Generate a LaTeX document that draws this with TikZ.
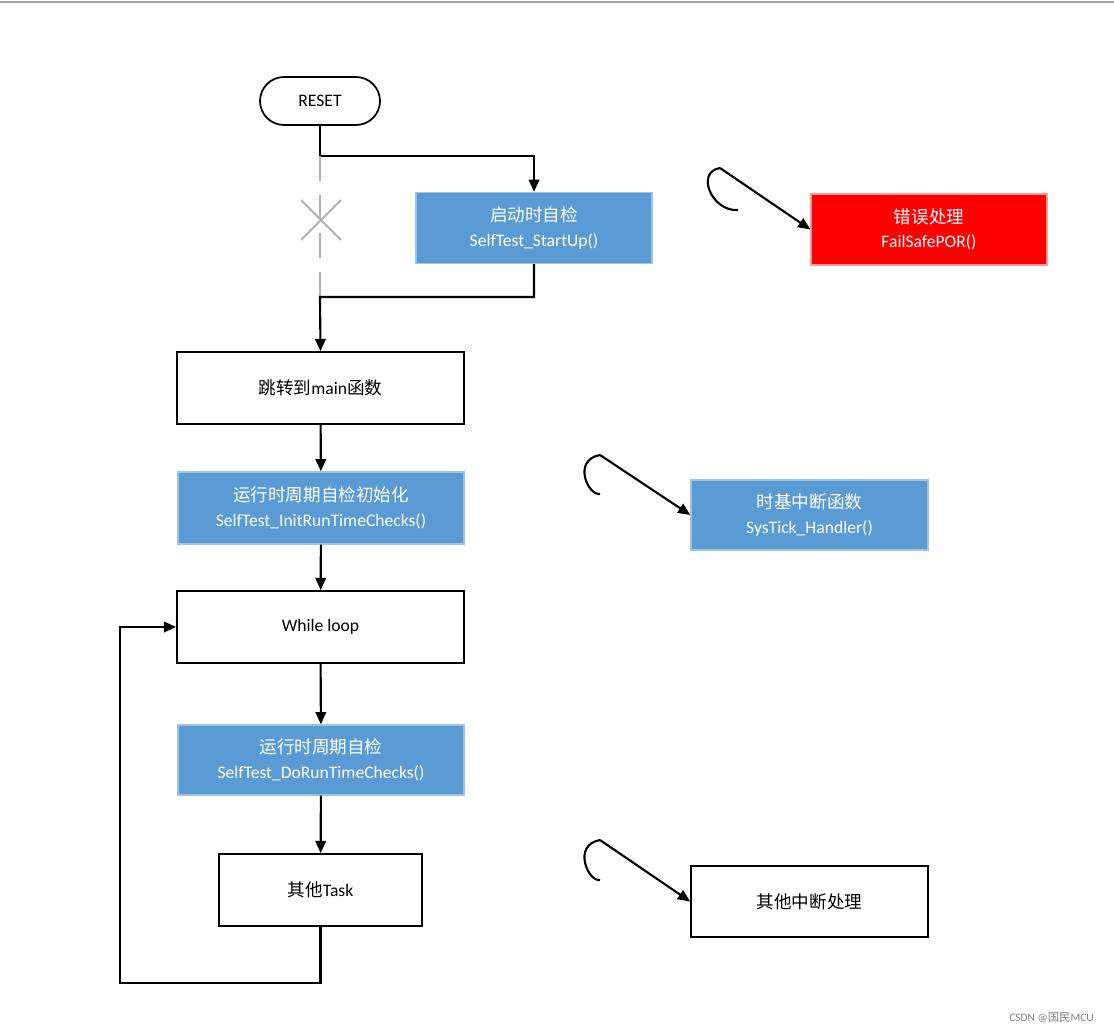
\documentclass[tikz,border=0pt]{standalone}
\usepackage{fontspec}
\setmainfont{Carlito}
\newfontfamily\cjk{Noto Sans CJK SC}
\usetikzlibrary{arrows.meta}
\begin{document}
\begin{tikzpicture}[x=0.02cm,y=-0.02cm,
  box/.style={draw=black,line width=1pt,minimum width=5.74cm,minimum height=1.44cm,align=center,font=\fontsize{10}{14}\selectfont,inner sep=0pt},
  blue/.style={fill=blue!10!cyan!40!blue!60!white,draw=blue!20!white,line width=0.8pt,text=white,align=center,font=\fontsize{10}{14}\selectfont,inner sep=0pt},
  conn/.style={line width=1.2pt,-{Triangle[length=7pt,width=6pt]}},
  plain/.style={line width=1.2pt}]
\colorlet{bb}{white}
\definecolor{mblue}{RGB}{91,155,213}
\tikzset{blue/.append style={fill=mblue,draw=mblue!60!white}}
\useasboundingbox (0,0) rectangle (1114,1034);
\draw[gray!70,line width=1pt] (0,2) -- (1114,2);
\node[draw,line width=1pt,rounded corners=0.48cm,minimum width=2.4cm,minimum height=0.96cm,font=\fontsize{10}{12}\selectfont] (reset) at (320,101) {RESET};
\node[blue,minimum width=4.72cm,minimum height=1.42cm] (st) at (534,228) {{\cjk 启动时自检}\\SelfTest\_StartUp()};
\node[blue,fill=red,draw=red!40!white,minimum width=4.72cm,minimum height=1.42cm] (err) at (929,229.5) {{\cjk 错误处理}\\FailSafePOR()};
\node[box] (main) at (320.5,388) {{\cjk 跳转到}main{\cjk 函数}};
\node[blue,minimum width=5.72cm,minimum height=1.44cm] (init) at (321,508) {{\cjk 运行时周期自检初始化}\\SelfTest\_InitRunTimeChecks()};
\node[box] (loop) at (320.5,627) {While loop};
\node[blue,minimum width=5.72cm,minimum height=1.40cm] (run) at (321,760) {{\cjk 运行时周期自检}\\SelfTest\_DoRunTimeChecks()};
\node[box,minimum width=4.06cm] (task) at (320.5,890) {{\cjk 其他}Task};
\node[blue,minimum width=4.74cm,minimum height=1.40cm] (tick) at (809.5,515) {{\cjk 时基中断函数}\\SysTick\_Handler()};
\node[box,minimum width=4.74cm,minimum height=1.42cm] (oth) at (809.5,901.5) {{\cjk 其他中断处理}};
\coordinate (c1) at (320,156);
\coordinate (c2) at (320,297);
\coordinate (c3) at (120,983);
\draw[conn] (reset.south) -- (c1) -| (st.north);
\draw[gray!60,line width=1.2pt,dash pattern=on 14pt off 8pt] (c1) -- (c2);
\draw[gray!60,line width=1.2pt] (301,200) -- (341,240) (301,240) -- (341,200);
\draw[conn] (st.south) |- (c2) -- (main.north);
\draw[conn] (main) -- (init);
\draw[conn] (init) -- (loop);
\draw[conn] (loop) -- (run);
\draw[conn] (run) -- (task);
\draw[conn] (task.south) |- (c3) |- (loop.west);
\coordinate (h1) at (720,168); \coordinate (h2) at (600,455); \coordinate (h3) at (600,840);
\draw[plain] (738,210) .. controls (712,212) and (695,172) .. (h1);
\draw[conn] (h1) -- (err.west);
\draw[plain] (600,494) .. controls (588,496) and (572,460) .. (h2);
\draw[conn] (h2) -- (tick.west);
\draw[plain] (600,880) .. controls (588,882) and (572,845) .. (h3);
\draw[conn] (h3) -- (oth.west);
\node[font=\fontsize{6.5}{8}\selectfont,text=gray,anchor=east] (csdn) at (1100,1018) {CSDN @{\cjk 国民}MCU};
\end{tikzpicture}
\end{document}
